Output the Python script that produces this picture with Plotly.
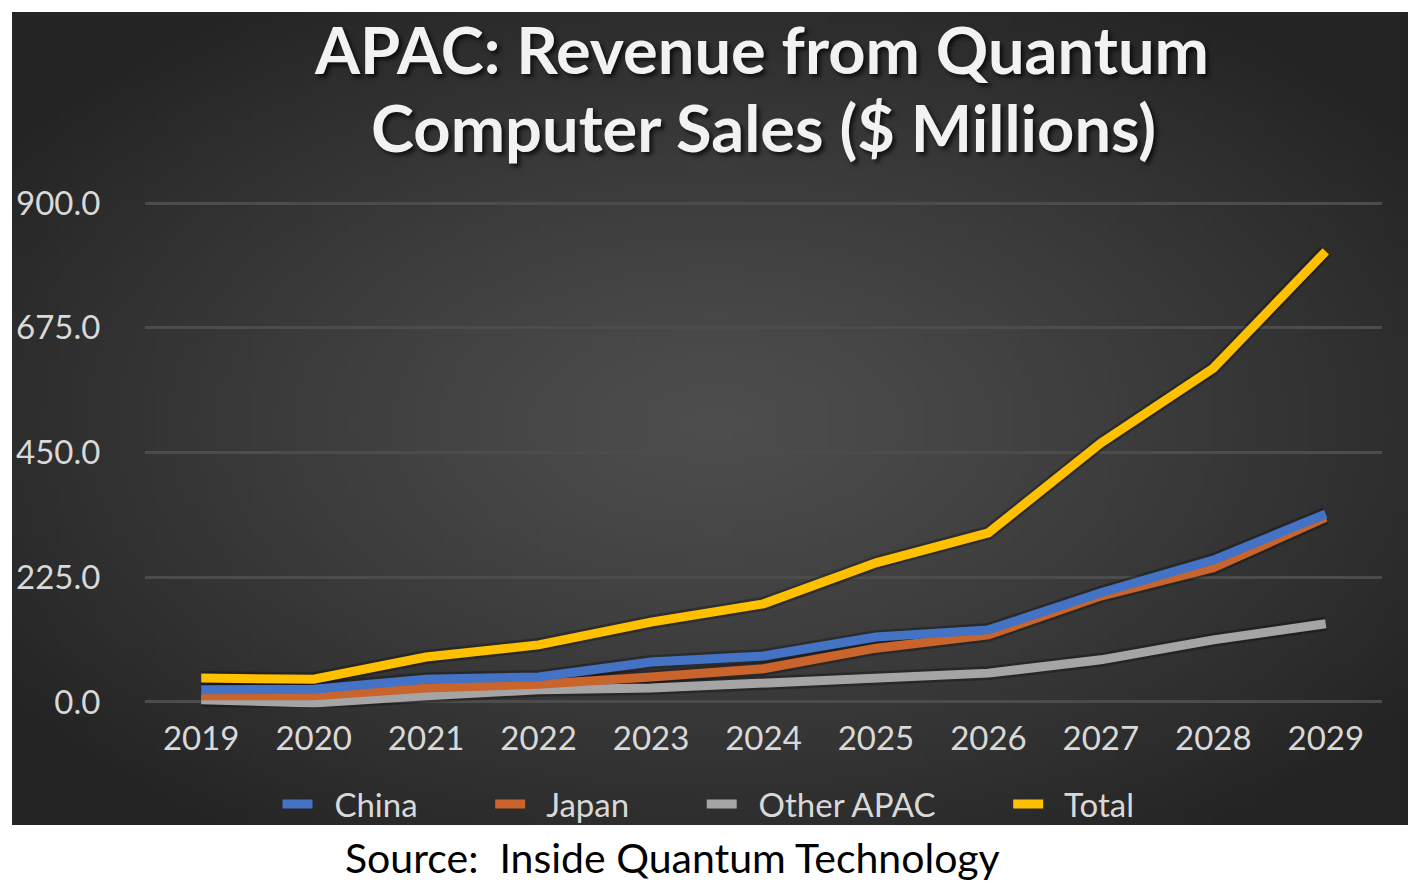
import base64, struct, zlib
import numpy as np
import plotly.graph_objects as go

years = ["2019", "2020", "2021", "2022", "2023", "2024", "2025", "2026", "2027", "2028", "2029"]
china = [22, 23, 41, 45, 72, 83, 117, 130, 197, 256, 339]
japan = [11, 11, 25, 32, 45, 60, 97, 121, 191, 242, 333]
other_apac = [4, -2, 11, 22, 25, 34, 40, 52, 76, 112, 141]
total = [43, 41, 81, 103, 144, 177, 251, 305, 467, 602, 813]
y_ticks = [0, 225, 450, 675, 900]
y_tick_text = ["0.0", "225.0", "450.0", "675.0", "900.0"]
title_line1 = "APAC: Revenue from Quantum"
title_line2 = "Computer Sales ($ Millions)"
source_text = "Source:  Inside Quantum Technology"

W, H = 1425, 893

# radial gradient background as PNG data URI
gw, gh = 160, 94
yy, xx = np.mgrid[0:gh, 0:gw]
cx, cy = gw * 0.5, gh * 0.5
d = np.sqrt(((xx - cx) / (gw * 0.62)) ** 2 + ((yy - cy) / (gh * 0.62)) ** 2)
d = np.clip(d, 0, 1)
inner, outer = 78, 36
val = (inner + (outer - inner) * d ** 1.2).astype(np.uint8)
raw = b"".join(b"\x00" + bytes(np.stack([val[r], val[r], val[r]], axis=1).flatten()) for r in range(gh))


def chunk(tag, data):
    c = struct.pack(">I", len(data)) + tag + data
    return c + struct.pack(">I", zlib.crc32(tag + data) & 0xFFFFFFFF)


png = b"\x89PNG\r\n\x1a\n" + chunk(b"IHDR", struct.pack(">IIBBBBB", gw, gh, 8, 2, 0, 0, 0)) + \
    chunk(b"IDAT", zlib.compress(raw, 9)) + chunk(b"IEND", b"")
bg_uri = "data:image/png;base64," + base64.b64encode(png).decode()

NB = "\u00a0"
series = [
    ("Other APAC", other_apac, "#A5A5A5", 3),
    ("Japan", japan, "#C8642C", 2),
    ("China", china, "#4472C4", 1),
    ("Total", total, "#FFC000", 4),
]

fig = go.Figure()
for name, vals, color, rank in series:
    fig.add_trace(go.Scatter(
        x=years, y=vals, mode="lines", showlegend=False, hoverinfo="skip",
        line=dict(color="rgba(0,0,0,0.28)", width=14, shape="linear"),
    ))
for name, vals, color, rank in series:
    fig.add_trace(go.Scatter(
        x=years, y=vals, name=NB * 2 + name + NB * 8, mode="lines", legendrank=rank,
        line=dict(color=color, width=9),
    ))

fy = lambda py: 1 - py / H
fx = lambda px: px / W

title_font = dict(family="Lato", size=65, color="#F2F2F2", weight="bold",
                  shadow="3px 3px 4px rgba(0,0,0,0.7)")

fig.update_layout(
    width=W, height=H,
    autosize=False,
    margin=dict(l=0, r=0, t=0, b=0, autoexpand=False),
    paper_bgcolor="white",
    plot_bgcolor="rgba(0,0,0,0)",
    images=[dict(source=bg_uri, xref="paper", yref="paper", x=fx(12), y=fy(12),
                 sizex=fx(1408) - fx(12), sizey=fy(12) - fy(825), sizing="stretch",
                 xanchor="left", yanchor="top", layer="below")],
    title=dict(
        text=title_line1, automargin=False,
        x=fx(762), xanchor="center", y=fy(51), yanchor="middle",
        font=title_font,
    ),
    xaxis=dict(
        domain=[fx(145), fx(1382)], range=[-0.5, 10.5], type="category",
        showgrid=False, showline=False, zeroline=False, automargin=False,
        ticks="outside", ticklen=2, tickcolor="rgba(0,0,0,0)",
        tickfont=dict(family="Lato", size=33, color="#D9D9D9"),
    ),
    yaxis=dict(
        domain=[fy(707.5), fy(186.4)], range=[-10, 930],
        tickvals=y_ticks, ticktext=y_tick_text, automargin=False,
        showgrid=True, gridcolor="#4C4C4C", gridwidth=3,
        zeroline=False, showline=False,
        ticks="outside", ticklen=37, tickcolor="rgba(0,0,0,0)",
        tickfont=dict(family="Lato", size=33, color="#D9D9D9"),
    ),
    legend=dict(
        orientation="h", x=0.5 + 30 / W, xanchor="center", y=fy(804), yanchor="middle",
        font=dict(family="Lato", size=33, color="#D9D9D9"),
        bgcolor="rgba(0,0,0,0)",
    ),
    annotations=[
        dict(text=title_line2, xref="paper", yref="paper",
             x=fx(763), y=fy(127), xanchor="center", yanchor="middle", showarrow=False,
             font=title_font),
        dict(text=source_text, xref="paper", yref="paper",
             x=fx(672), y=fy(857), xanchor="center", yanchor="middle", showarrow=False,
             font=dict(family="Lato", size=41, color="black")),
    ],
)

fig.write_html("out.html")
